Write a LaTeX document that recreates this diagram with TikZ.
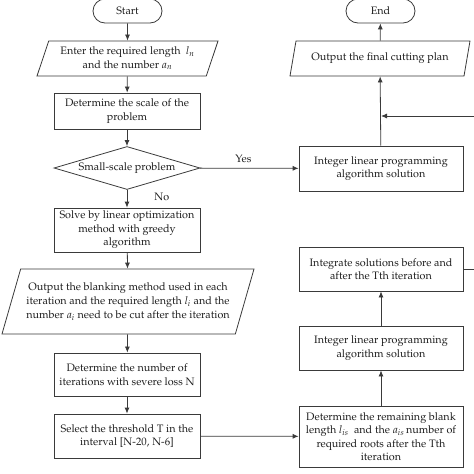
\documentclass[tikz,border=0pt]{standalone}
\usepackage{amsmath}
\usepackage{amssymb}
\usepackage[T1]{fontenc}
\usepackage{mathpazo}
\usepackage{color}
\usetikzlibrary{shapes.geometric,shapes.misc,arrows.meta}

\definecolor{linecol}{RGB}{58,58,58}
\definecolor{textcol}{RGB}{30,30,30}

\tikzset{
  txt/.style={text=textcol, font=\fontsize{10.8}{13.5}\selectfont, align=center, inner sep=1pt},
  box/.style={txt, draw=linecol, line width=0.8pt, rectangle, minimum width=146pt, minimum height=44pt},
  widebox/.style={box, minimum width=164pt},
  term/.style={txt, draw=linecol, line width=0.8pt, rounded rectangle, minimum width=71pt, minimum height=24pt},
  io/.style={txt, draw=linecol, line width=0.8pt, trapezium, trapezium left angle=65, trapezium right angle=115, trapezium stretches body},
  test/.style={txt, draw=linecol, line width=0.8pt, diamond, aspect=3.4, minimum width=146pt, minimum height=43pt, inner sep=0pt},
  flow/.style={draw=linecol, line width=0.8pt, -{Latex[length=6pt,width=5pt]}},
  plain/.style={draw=linecol, line width=0.8pt}
}

\begin{document}
\begin{tikzpicture}[x=1pt, y=-1pt]
%%%%%%%%%%%%%%%%%%Fix The Picture Frame%%%%%%%%%%%%%%%
\useasboundingbox (0,0) rectangle (474,474);
\clip (0,0) rectangle (474,474);

%%%%%%%%%%%%%%%%%%Left Column%%%%%%%%%%%%%%%%%%%%%%%%%
\node[term] (start) at (127.5,11) {Start};
\node[io, minimum width=181pt, minimum height=35pt] (input) at (127.5,58.5) {Enter the required length \ $l_n$\\ and the number $a_n$};
\node[box, minimum height=36pt] (scale) at (127,111) {Determine the scale of the\\ problem};
\node[test] (small) at (127,168) {Small-scale problem};
\node[box] (greedy) at (127,230) {Solve by linear optimization\\ method with greedy\\ algorithm};
\node[io, minimum width=252pt, minimum height=65pt, font=\fontsize{10.8}{14}\selectfont] (blank) at (128,301.5) {Output the blanking method used in each\\ iteration and the required length $l_i$ and the\\ number $a_i$ need to be cut after the iteration};
\node[box, minimum height=43pt] (loss) at (127,374.5) {Determine the number of\\ iterations with severe loss N};
\node[box] (thresh) at (127,436) {Select the threshold T in the\\ interval [N-20, N-6]};

%%%%%%%%%%%%%%%%%%Right Column%%%%%%%%%%%%%%%%%%%%%%%%
\node[term] (end) at (380.5,11) {End};
\node[io, minimum width=180pt, minimum height=35pt] (plan) at (380,58.5) {Output the final cutting plan};
\node[widebox, minimum height=45pt] (ilpa) at (381,168.5) {Integer linear programming\\ algorithm solution};
\node[widebox] (merge) at (381,269) {Integrate solutions before and\\ after the Tth iteration};
\node[widebox] (ilpb) at (381,348) {Integer linear programming\\ algorithm solution};
\node[widebox, minimum height=61pt] (remain) at (381,436.5) {Determine the remaining blank\\ length $l_{is}$ \ and the $a_{is}$\,number of\\ required roots after the Tth\\ iteration};

%%%%%%%%%%%%%%%%%%Connectors Left%%%%%%%%%%%%%%%%%%%%%
\draw[flow] (start) -- (input);
\draw[flow] (input) -- (scale);
\draw[flow] (scale) -- (small);
\draw[flow] (small) -- (greedy) node[txt, pos=0.42, right=26pt] {No};
\draw[flow] (greedy) -- (blank);
\draw[flow] (blank) -- (loss);
\draw[flow] (loss) -- (thresh);

%%%%%%%%%%%%%%%%%%Connectors Across%%%%%%%%%%%%%%%%%%%
\draw[flow] (small) -- (ilpa) node[txt, pos=0.44, above=4pt] {Yes};
\draw[flow] (thresh) -- (remain);

%%%%%%%%%%%%%%%%%%Connectors Right%%%%%%%%%%%%%%%%%%%%
\draw[flow] (remain) -- (ilpb);
\draw[flow] (ilpb) -- (merge);
\draw[flow] (ilpa) -- (plan);
\draw[flow] (plan) -- (end);
\coordinate (join) at (ilpa.north |- 0,116);
\draw[flow] (merge.east) -- (490,269) |- (join);

\end{tikzpicture}
\end{document}
